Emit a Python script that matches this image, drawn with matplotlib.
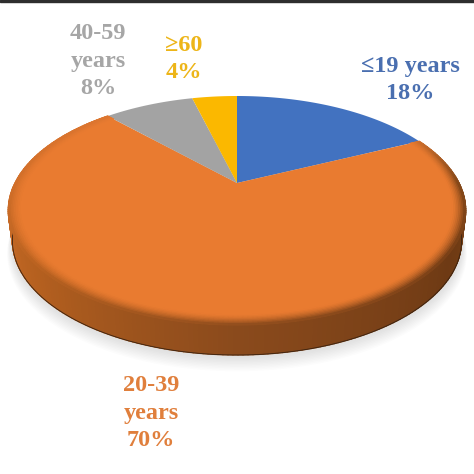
import numpy as np
import matplotlib
matplotlib.use("Agg")
import matplotlib.pyplot as plt
from matplotlib.collections import PolyCollection
from matplotlib.colors import to_rgb

categories = ["≤19 years", "20-39 years", "40-59 years", "≥60"]
values = [18, 70, 8, 4]
colors = ["#4272C0", "#E97B30", "#A3A3A3", "#FBB800"]
labels = ["≤19 years\n18%", "20-39\nyears\n70%", "40-59\nyears\n8%", "≥60\n4%"]
text_colors = ["#4A6FB0", "#E07F3C", "#A6A6A6", "#EDB518"]
label_pos = [(410, 80), (151, 413), (98, 61), (184, 59)]

CX, CY, K, A, C = 237.0, 183.0, 222.0, -63.94, 0.2402
DEPTH = 30.0


def project(theta_deg, r=1.0, drop=0.0):
    t = np.radians(theta_deg)
    x, y = r * np.sin(t), r * np.cos(t)
    w = 1 + C * y
    s = 1 - 0.018 * drop / DEPTH
    return CX + K * x / w * s, (CY + A * y) / w + drop


def mix(a, b, f):
    a, b = np.array(to_rgb(a)), np.array(to_rgb(b))
    return tuple(a + (b - a) * f)


rim_angles = [60, 90, 125, 180, 230, 270, 320]
rim_cols = ["#D87530", "#7A4216", "#6E3A14", "#8A4A1C", "#B5601F", "#CF6E29", "#DD7630"]


def rim_color(theta):
    arr = np.array([to_rgb(c) for c in rim_cols])
    return tuple(np.interp(theta, rim_angles, arr[:, i]) for i in range(3))


fig = plt.figure(figsize=(4.74, 4.74), dpi=100)
ax = fig.add_axes([0, 0, 1, 1])
ax.set_xlim(0, 474)
ax.set_ylim(474, 0)
ax.axis("off")
ax.axhspan(0, 2, color="#2E2E2E", zorder=20)

# soft shadow below the disc
circle = np.linspace(0, 360, 361)
for i in range(12):
    sx, sy = project(circle, 1.0 + 0.002 * i, DEPTH)
    ax.fill(sx, sy + 1.1 * i, color="#909090", alpha=0.022, lw=0, zorder=1)

edges = np.cumsum([0] + values) * 3.6
orange_start, orange_end = edges[1], edges[2]

# side wall of the disc
steps = np.arange(orange_start, orange_end, 1.0)
quads, fc = [], []
for t in steps:
    t2 = min(t + 1.0, orange_end)
    x1, y1 = project(t)
    x2, y2 = project(t2)
    x3, y3 = project(t2, 1.0, DEPTH)
    x4, y4 = project(t, 1.0, DEPTH)
    quads.append([(x1, y1), (x2, y2), (x3, y3), (x4, y4)])
    fc.append(rim_color(t + 0.5))
ax.add_collection(PolyCollection(quads, facecolors=fc, edgecolors=fc, linewidths=0.9, zorder=2))
bx, by = project(steps, 1.0, DEPTH)
ax.plot(bx, by, color="#3A2210", lw=0.6, zorder=3)

# top face
for start, end, col in zip(edges[:-1], edges[1:], colors):
    th = np.linspace(start, end, 200)
    x, y = project(th)
    ax.fill(np.r_[CX, x], np.r_[CY, y], color=col, lw=0, zorder=4)

# rounded bevel between face and wall
radii = np.linspace(0.945, 1.0, 9)
for j in range(len(radii) - 1):
    f = ((j + 0.5) / (len(radii) - 1)) ** 1.6
    quads, fc = [], []
    for t in steps:
        t2 = min(t + 1.0, orange_end)
        a = project(t, radii[j])
        b = project(t2, radii[j])
        c = project(t2, radii[j + 1])
        d = project(t, radii[j + 1])
        quads.append([a, b, c, d])
        fc.append(mix(colors[1], rim_color(t + 0.5), f))
    ax.add_collection(PolyCollection(quads, facecolors=fc, edgecolors=fc,
                                     linewidths=0.9, zorder=5 + 0.01 * j))

# labels
for lab, col, (lx, ly) in zip(labels, text_colors, label_pos):
    ax.text(lx, ly, lab, color=col, ha="center", va="center", fontsize=17.5,
            family="Liberation Serif", fontweight="bold", linespacing=1.4, zorder=10)

fig.savefig("out.png", dpi=100)
